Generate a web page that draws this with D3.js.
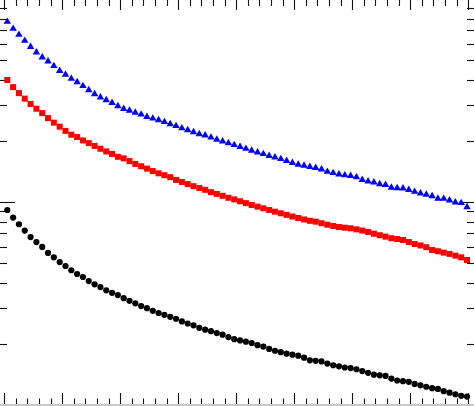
<!DOCTYPE html>
<html>
<head>
<meta charset="utf-8">
<script src="https://cdn.jsdelivr.net/npm/d3@7"></script>
<style>
  html, body { margin: 0; padding: 0; background: #fff; }
  svg { display: block; }
</style>
</head>
<body>
<svg id="chart" width="474" height="406"></svg>
<script>
// ---- data ----
const sampleIndex = d3.range(1, 81); // 80 samples

const seriesBlue = [77.3,71.4,66.7,62.3,58.1,54.6,51.6,49.3,46.8,44.3,
  42.4,40.5,39.0,37.3,35.6,34.0,32.8,31.8,30.8,29.7,
  28.8,28.2,27.6,27.0,26.3,25.8,25.3,24.8,24.2,23.7,
  23.1,22.6,22.1,21.6,21.3,20.8,20.3,19.9,19.5,19.1,
  18.7,18.3,17.9,17.55,17.25,16.9,16.6,16.3,15.95,15.6,
  15.3,15.1,14.9,14.75,14.5,14.1,13.9,13.7,13.55,13.45,
  13.25,12.85,12.65,12.5,12.25,12.15,11.77,11.72,11.67,11.48,
  11.24,11.03,10.88,10.69,10.4,10.38,10.2,9.97,9.89,9.44];

const seriesRed = [39.9,36.8,34.4,32.3,30.4,28.8,27.4,25.9,24.6,23.5,
  22.4,21.45,20.9,20.1,19.5,18.9,18.3,17.75,17.25,16.7,
  16.4,15.9,15.4,15.0,14.6,14.2,13.85,13.55,13.25,12.85,
  12.55,12.25,11.97,11.72,11.48,11.18,10.96,10.73,10.49,10.3,
  10.08,9.87,9.67,9.49,9.31,9.13,8.96,8.80,8.64,8.48,
  8.34,8.20,8.08,8.00,7.86,7.73,7.62,7.53,7.47,7.42,
  7.33,7.23,7.12,6.98,6.86,6.75,6.63,6.57,6.50,6.35,
  6.21,6.11,5.99,5.80,5.72,5.63,5.55,5.44,5.34,5.18];

const seriesBlack = [9.13,8.38,7.77,7.23,6.72,6.35,6.01,5.61,5.34,5.06,
  4.84,4.61,4.42,4.27,4.08,3.93,3.81,3.67,3.57,3.48,
  3.36,3.26,3.17,3.07,3.00,2.91,2.84,2.78,2.72,2.66,
  2.58,2.52,2.47,2.40,2.35,2.31,2.26,2.22,2.16,2.11,
  2.08,2.05,2.02,1.97,1.94,1.89,1.85,1.82,1.79,1.77,
  1.75,1.71,1.66,1.65,1.64,1.60,1.57,1.55,1.53,1.52,
  1.50,1.47,1.44,1.41,1.40,1.39,1.35,1.32,1.31,1.30,
  1.27,1.25,1.23,1.21,1.20,1.17,1.15,1.13,1.11,1.10];

const xAxisMajorTicks = d3.range(0, 81, 10);
const xAxisMinorTicks = d3.range(0, 81, 2);
const yDomain = [1, 100];

// ---- drawing ----
const svg = d3.select("#chart");
const W = 474, H = 406;

const xAxisScale = d3.scaleLinear().domain([0, 80]).range([4.3, 468.2]);
const xPoint = d3.scalePoint().domain(sampleIndex).range([7.3, 467.0]);
const y = d3.scaleLog().domain(yDomain).range([405, -1]);

// y ticks (log): minor 2..9 per decade, major at decades
const yMinor = [];
[1, 10].forEach(d => { for (let k = 2; k <= 9; k++) yMinor.push(d * k); });
const yMajor = [10];

const tickColor = "#111";

// bottom axis line (partially cropped, light)
svg.append("rect").attr("x", 0).attr("y", 404).attr("width", W).attr("height", 2).attr("fill", "#c8c8c8");

// top x ticks
const gTop = svg.append("g").attr("stroke", tickColor).attr("stroke-width", 1.1);
xAxisMinorTicks.forEach(t => {
  const major = xAxisMajorTicks.includes(t);
  const px = Math.round(xAxisScale(t)) + 0.5;
  gTop.append("line").attr("x1", px).attr("x2", px).attr("y1", 0).attr("y2", major ? 10 : 6);
  svg.append("line").attr("stroke", tickColor).attr("stroke-width", 1.1)
    .attr("x1", px).attr("x2", px).attr("y1", 404).attr("y2", major ? 393 : 398.5);
});

// left and right y ticks
const gY = svg.append("g").attr("stroke", tickColor).attr("stroke-width", 1.1);
yMinor.forEach(t => {
  const py = Math.round(y(t)) + 0.5;
  gY.append("line").attr("x1", 0).attr("x2", 7).attr("y1", py).attr("y2", py);
  gY.append("line").attr("x1", W - 7).attr("x2", W).attr("y1", py).attr("y2", py);
});
yMajor.forEach(t => {
  const py = Math.round(y(t)) + 0.5;
  gY.append("line").attr("x1", 0).attr("x2", 15).attr("y1", py).attr("y2", py);
  gY.append("line").attr("x1", W - 14).attr("x2", W).attr("y1", py).attr("y2", py);
});

// series markers
const tri = d3.symbol().type(d3.symbolTriangle).size(24);
svg.append("g").selectAll("path").data(sampleIndex).join("path")
  .attr("d", tri)
  .attr("transform", (d, i) => `translate(${xPoint(d)},${y(seriesBlue[i])})`)
  .attr("fill", "#0000ff");

svg.append("g").selectAll("rect").data(sampleIndex).join("rect")
  .attr("x", d => xPoint(d) - 3)
  .attr("y", (d, i) => y(seriesRed[i]) - 3)
  .attr("width", 6).attr("height", 6)
  .attr("fill", "#ff0000");

svg.append("g").selectAll("circle").data(sampleIndex).join("circle")
  .attr("cx", d => xPoint(d))
  .attr("cy", (d, i) => y(seriesBlack[i]))
  .attr("r", 3.1)
  .attr("fill", "#000");
</script>
</body>
</html>
